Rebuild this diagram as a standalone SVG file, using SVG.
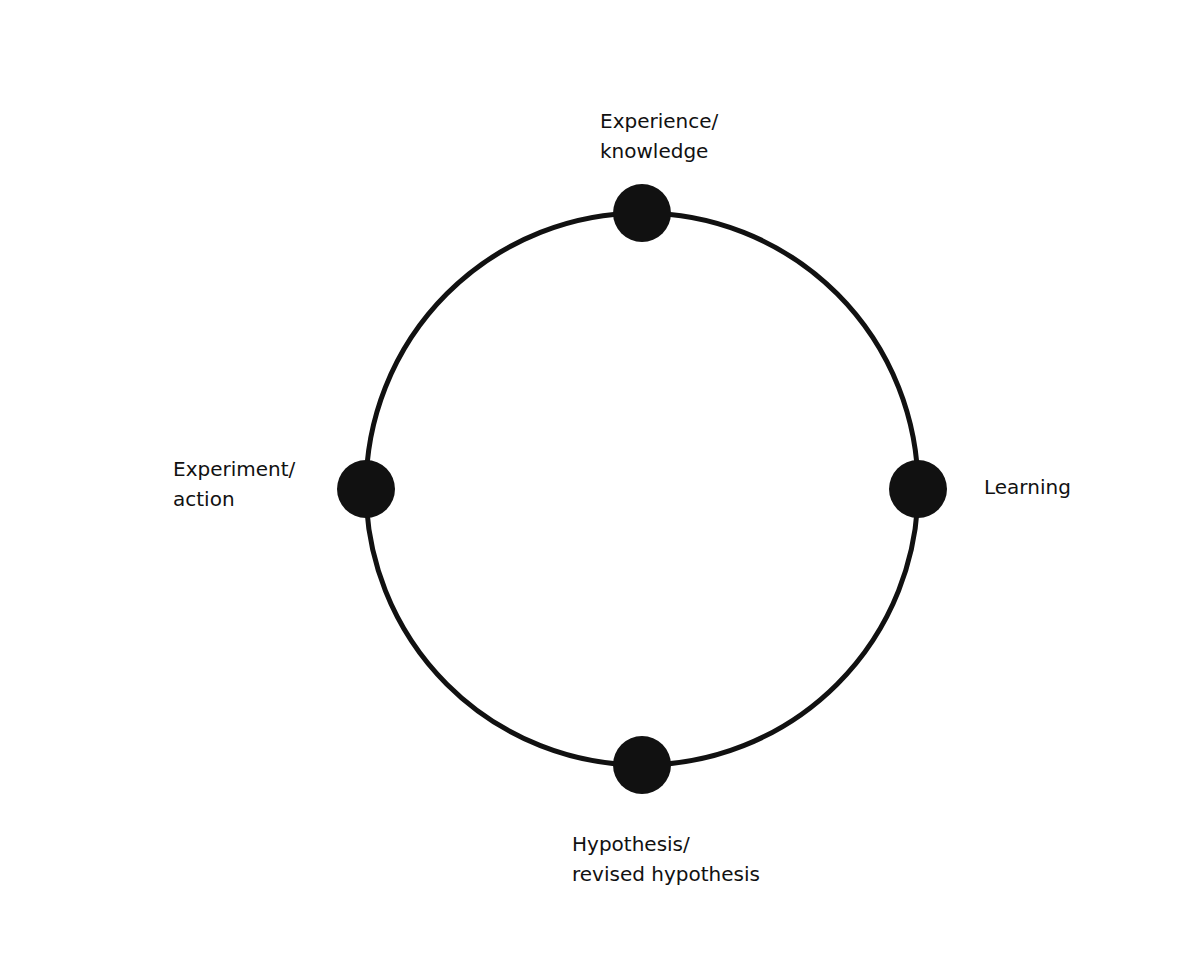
<svg xmlns="http://www.w3.org/2000/svg" width="1200" height="975" viewBox="0 0 1200 975">
<style>
.lbl{font-family:"DejaVu Sans","Liberation Sans",sans-serif;font-size:20px;fill:#111}
.dot{fill:#111}
</style>
<rect width="1200" height="975" fill="#fff"/>
<g id="connectors"><circle cx="642" cy="489" r="276" fill="none" stroke="#111" stroke-width="5"/></g>
<g id="n-top"><circle class="dot" cx="642" cy="213" r="29"/><text class="lbl" x="600" y="128">Experience/</text><text class="lbl" x="600" y="158">knowledge</text></g>
<g id="n-right"><circle class="dot" cx="918" cy="489" r="29"/><text class="lbl" x="984" y="494">Learning</text></g>
<g id="n-bottom"><circle class="dot" cx="642" cy="765" r="29"/><text class="lbl" x="572" y="851">Hypothesis/</text><text class="lbl" x="572" y="881">revised hypothesis</text></g>
<g id="n-left"><circle class="dot" cx="366" cy="489" r="29"/><text class="lbl" x="173" y="476">Experiment/</text><text class="lbl" x="173" y="506">action</text></g>
</svg>
